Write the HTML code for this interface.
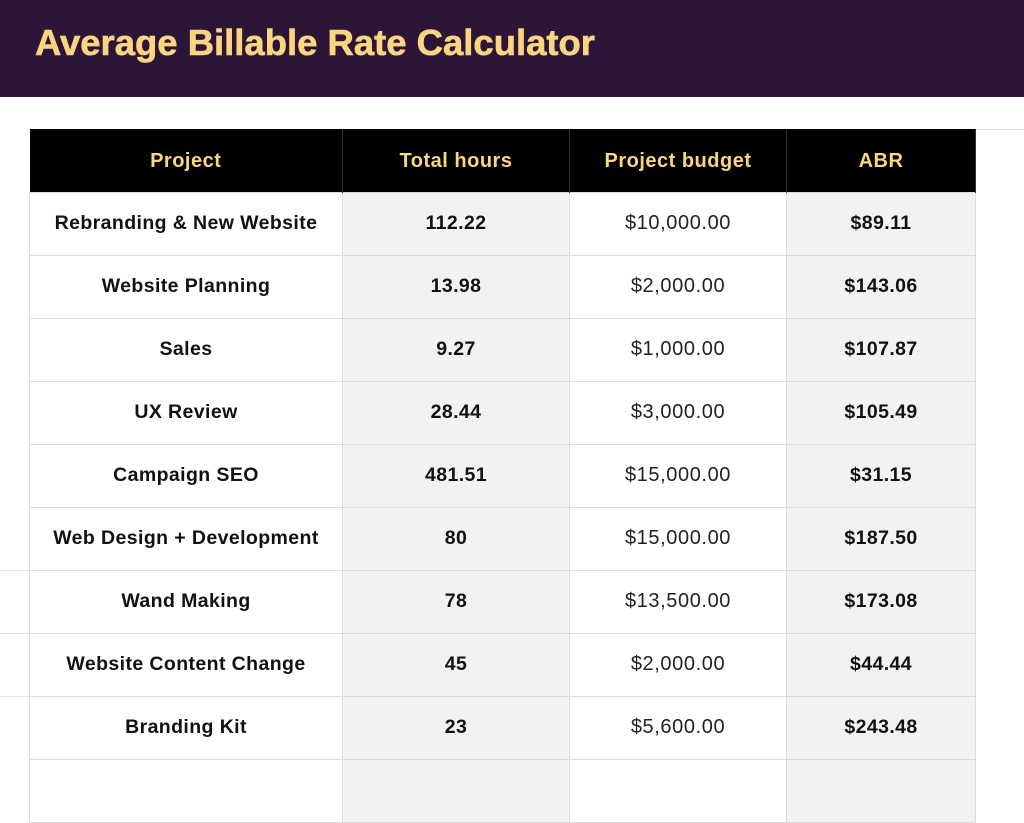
<!DOCTYPE html>
<html><head><meta charset="utf-8"><style>
*{margin:0;padding:0;box-sizing:border-box}
body{width:1024px;height:771px;background:#fff;overflow:hidden;position:relative;font-family:"Liberation Sans",Arial,sans-serif}
.hdr{position:absolute;left:0;top:0;width:1024px;height:97px;background:#2d1538}
.hdr svg{position:absolute;left:0;top:0}
table{position:absolute;left:29px;top:129px;border-collapse:collapse;table-layout:fixed}
td,th{height:63px;text-align:center;vertical-align:middle;font-size:19.5px;letter-spacing:0.4px;font-weight:bold;color:#111;border:1px solid #dcdcdc}
th{background:#000;color:#fcd581;border:none;border-right:1px solid #333;font-size:20px;letter-spacing:0.5px;padding-top:2px}
td.g{background:#f2f2f2}
td.n{font-weight:normal;color:#222;font-size:20px;letter-spacing:0.6px}
.ln{position:absolute;height:1px;background:#e2e2e2}
</style></head><body>
<div class="hdr"><svg width="1024" height="97"><text x="35" y="55" textLength="560" lengthAdjust="spacingAndGlyphs" font-family="Liberation Sans, Arial, sans-serif" font-weight="bold" font-size="36" fill="#fcd581" stroke="#fcd581" stroke-width="0.6">Average Billable Rate Calculator</text></svg></div>
<div class="ln" style="left:975px;top:129px;width:49px"></div>
<div class="ln" style="left:0;top:570px;width:29px"></div>
<div class="ln" style="left:0;top:633px;width:29px"></div>
<div class="ln" style="left:0;top:696px;width:29px"></div>
<table>
<colgroup><col style="width:313px"><col style="width:227px"><col style="width:217px"><col style="width:189px"></colgroup>
<tr><th>Project</th><th>Total hours</th><th>Project budget</th><th>ABR</th></tr>
<tr><td>Rebranding &amp; New Website</td><td class="g">112.22</td><td class="n">$10,000.00</td><td class="g">$89.11</td></tr>
<tr><td>Website Planning</td><td class="g">13.98</td><td class="n">$2,000.00</td><td class="g">$143.06</td></tr>
<tr><td>Sales</td><td class="g">9.27</td><td class="n">$1,000.00</td><td class="g">$107.87</td></tr>
<tr><td>UX Review</td><td class="g">28.44</td><td class="n">$3,000.00</td><td class="g">$105.49</td></tr>
<tr><td>Campaign SEO</td><td class="g">481.51</td><td class="n">$15,000.00</td><td class="g">$31.15</td></tr>
<tr><td>Web Design + Development</td><td class="g">80</td><td class="n">$15,000.00</td><td class="g">$187.50</td></tr>
<tr><td>Wand Making</td><td class="g">78</td><td class="n">$13,500.00</td><td class="g">$173.08</td></tr>
<tr><td>Website Content Change</td><td class="g">45</td><td class="n">$2,000.00</td><td class="g">$44.44</td></tr>
<tr><td>Branding Kit</td><td class="g">23</td><td class="n">$5,600.00</td><td class="g">$243.48</td></tr>
<tr><td></td><td class="g"></td><td class="n"></td><td class="g"></td></tr>
</table>
</body></html>
